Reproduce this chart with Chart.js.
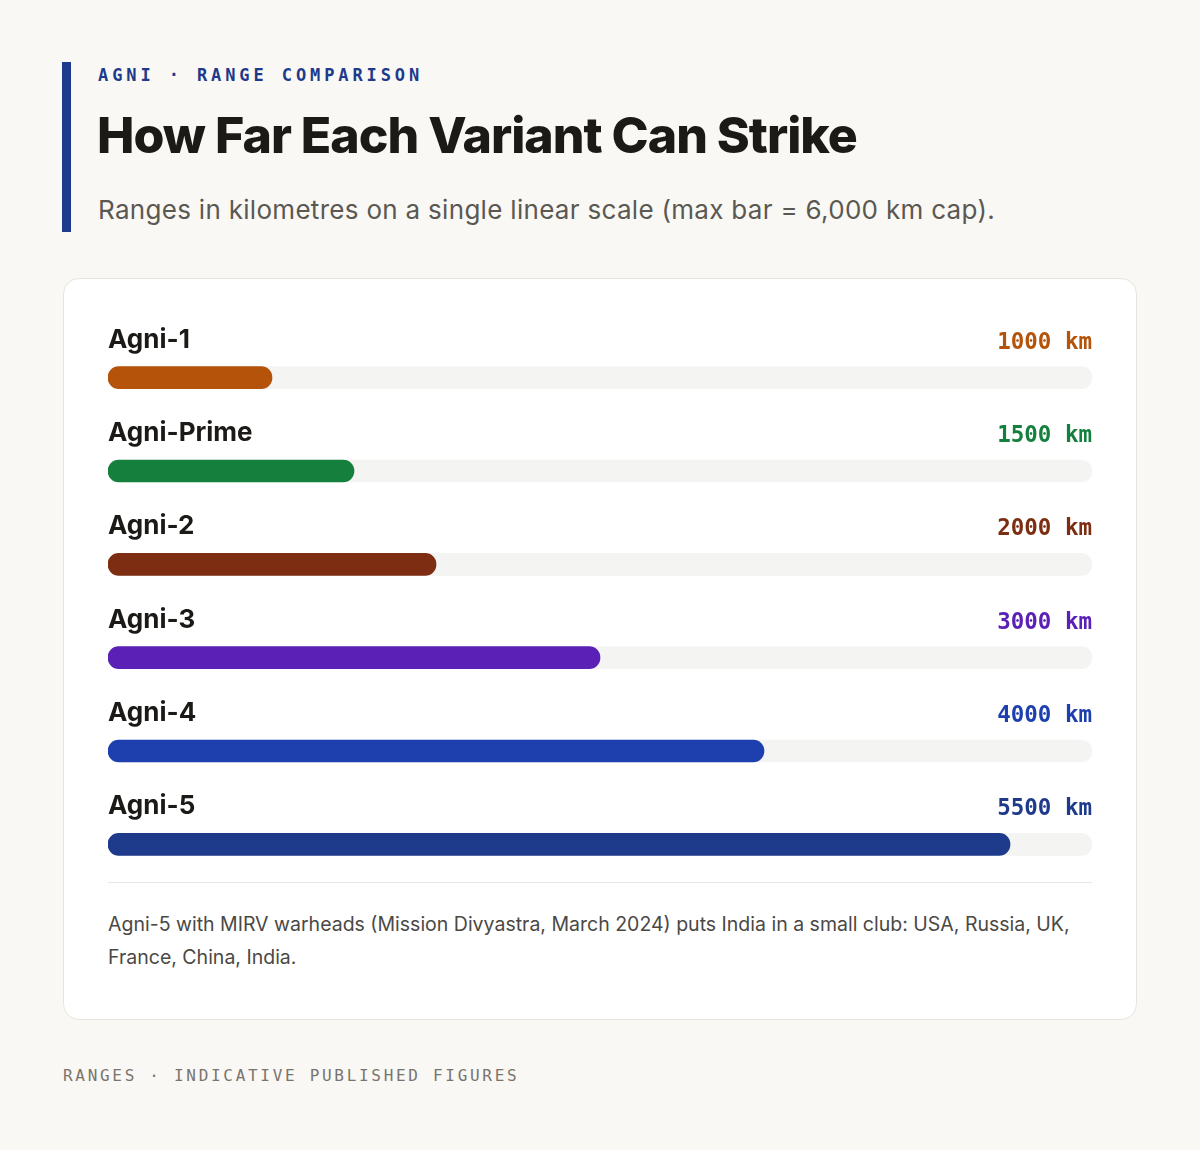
<!DOCTYPE html>
<html>
<head>
<meta charset="utf-8">
<script src="https://cdn.jsdelivr.net/npm/chart.js@4.4.1/dist/chart.umd.min.js"></script>
<style>
  html, body { margin: 0; padding: 0; }
  body {
    width: 1200px; height: 1150px; position: relative; overflow: hidden;
    background: #f9f8f4; font-family: Inter, "Noto Sans", sans-serif; color: #1c1a17;
  }
  .accent { position: absolute; left: 62px; top: 62px; width: 9px; height: 170px; background: #1e3a8a; }
  .eyebrow {
    position: absolute; left: 98px; top: 65px; font: 700 17px "DejaVu Sans Mono", monospace;
    letter-spacing: 3.9px; color: #1e3a8a;
  }
  h1 {
    position: absolute; left: 97px; top: 105px; margin: 0; font-size: 50px; font-weight: 800;
    letter-spacing: -1px; line-height: 60px; color: #1c1a17;
  }
  .sub { position: absolute; left: 98px; top: 194px; font-size: 26px; letter-spacing: 0.3px; color: #5b5853; }
  .card {
    position: absolute; left: 63px; top: 278px; width: 1072px; height: 740px;
    background: #fff; border: 1px solid #e7e4de; border-radius: 16px;
  }
  #wrap { position: absolute; left: 108px; top: 311px; width: 984px; height: 590px; }
  .rule { position: absolute; left: 108px; top: 882px; width: 984px; height: 1px; background: #e8e6e1; }
  .note {
    position: absolute; left: 108px; top: 908px; width: 984px; font-size: 19.5px; line-height: 33px;
    color: #4b4844;
  }
  .foot {
    position: absolute; left: 63px; top: 1066px; font: 400 16px "DejaVu Sans Mono", monospace;
    letter-spacing: 2.7px; color: #7a746e;
  }
</style>
</head>
<body>
<div class="accent"></div>
<div class="eyebrow">AGNI · RANGE COMPARISON</div>
<h1>How Far Each Variant Can Strike</h1>
<div class="sub">Ranges in kilometres on a single linear scale (max bar = 6,000 km cap).</div>
<div class="card"></div>
<div id="wrap"><canvas id="rangeChart"></canvas></div>
<div class="rule"></div>
<div class="note">Agni-5 with MIRV warheads (Mission Divyastra, March 2024) puts India in a small club: USA, Russia, UK, France, China, India.</div>
<div class="foot">RANGES · INDICATIVE PUBLISHED FIGURES</div>

<script>
const variants = ['Agni-1', 'Agni-Prime', 'Agni-2', 'Agni-3', 'Agni-4', 'Agni-5'];
const rangesKm = [1000, 1500, 2000, 3000, 4000, 5500];
const barColors = ['#b45309', '#15803d', '#7c2d12', '#5b21b6', '#1e40af', '#1e3a8a'];
const scaleCap = 6000;
const trackValues = variants.map(() => scaleCap);

// names on the left, km values on the right of every row
const rowLabels = {
  id: 'rowLabels',
  afterDatasetsDraw(chart) {
    const ctx = chart.ctx;
    const area = chart.chartArea;
    const bars = chart.getDatasetMeta(0).data;
    ctx.save();
    bars.forEach((bar, i) => {
      ctx.textBaseline = 'alphabetic';
      ctx.fillStyle = '#1c1a17';
      ctx.textAlign = 'left';
      ctx.font = '700 26px Inter, sans-serif';
      ctx.fillText(variants[i], area.left, bar.y - 30);
      ctx.fillStyle = barColors[i];
      ctx.textAlign = 'right';
      ctx.font = '700 22.5px "DejaVu Sans Mono", monospace';
      ctx.fillText(rangesKm[i] + ' km', area.right, bar.y - 29);
    });
    ctx.restore();
  }
};

new Chart(document.getElementById('rangeChart'), {
  type: 'bar',
  data: {
    labels: variants,
    datasets: [{
      label: 'Range (km)',
      data: rangesKm,
      backgroundColor: barColors,
      barThickness: 22,
      borderRadius: 11,
      borderSkipped: false,
      grouped: false,
      order: 1
    }, {
      label: 'Cap',
      data: trackValues,
      backgroundColor: '#f4f4f2',
      barThickness: 22,
      borderRadius: 11,
      borderSkipped: false,
      grouped: false,
      order: 2
    }]
  },
  options: {
    indexAxis: 'y',
    responsive: true,
    maintainAspectRatio: false,
    animation: false,
    layout: { padding: { top: 20, bottom: 10, left: 0, right: 0 } },
    plugins: { legend: { display: false }, tooltip: { enabled: false } },
    scales: {
      x: { display: false, min: 0, max: scaleCap },
      y: { display: false }
    }
  },
  plugins: [rowLabels]
});
</script>
</body>
</html>
